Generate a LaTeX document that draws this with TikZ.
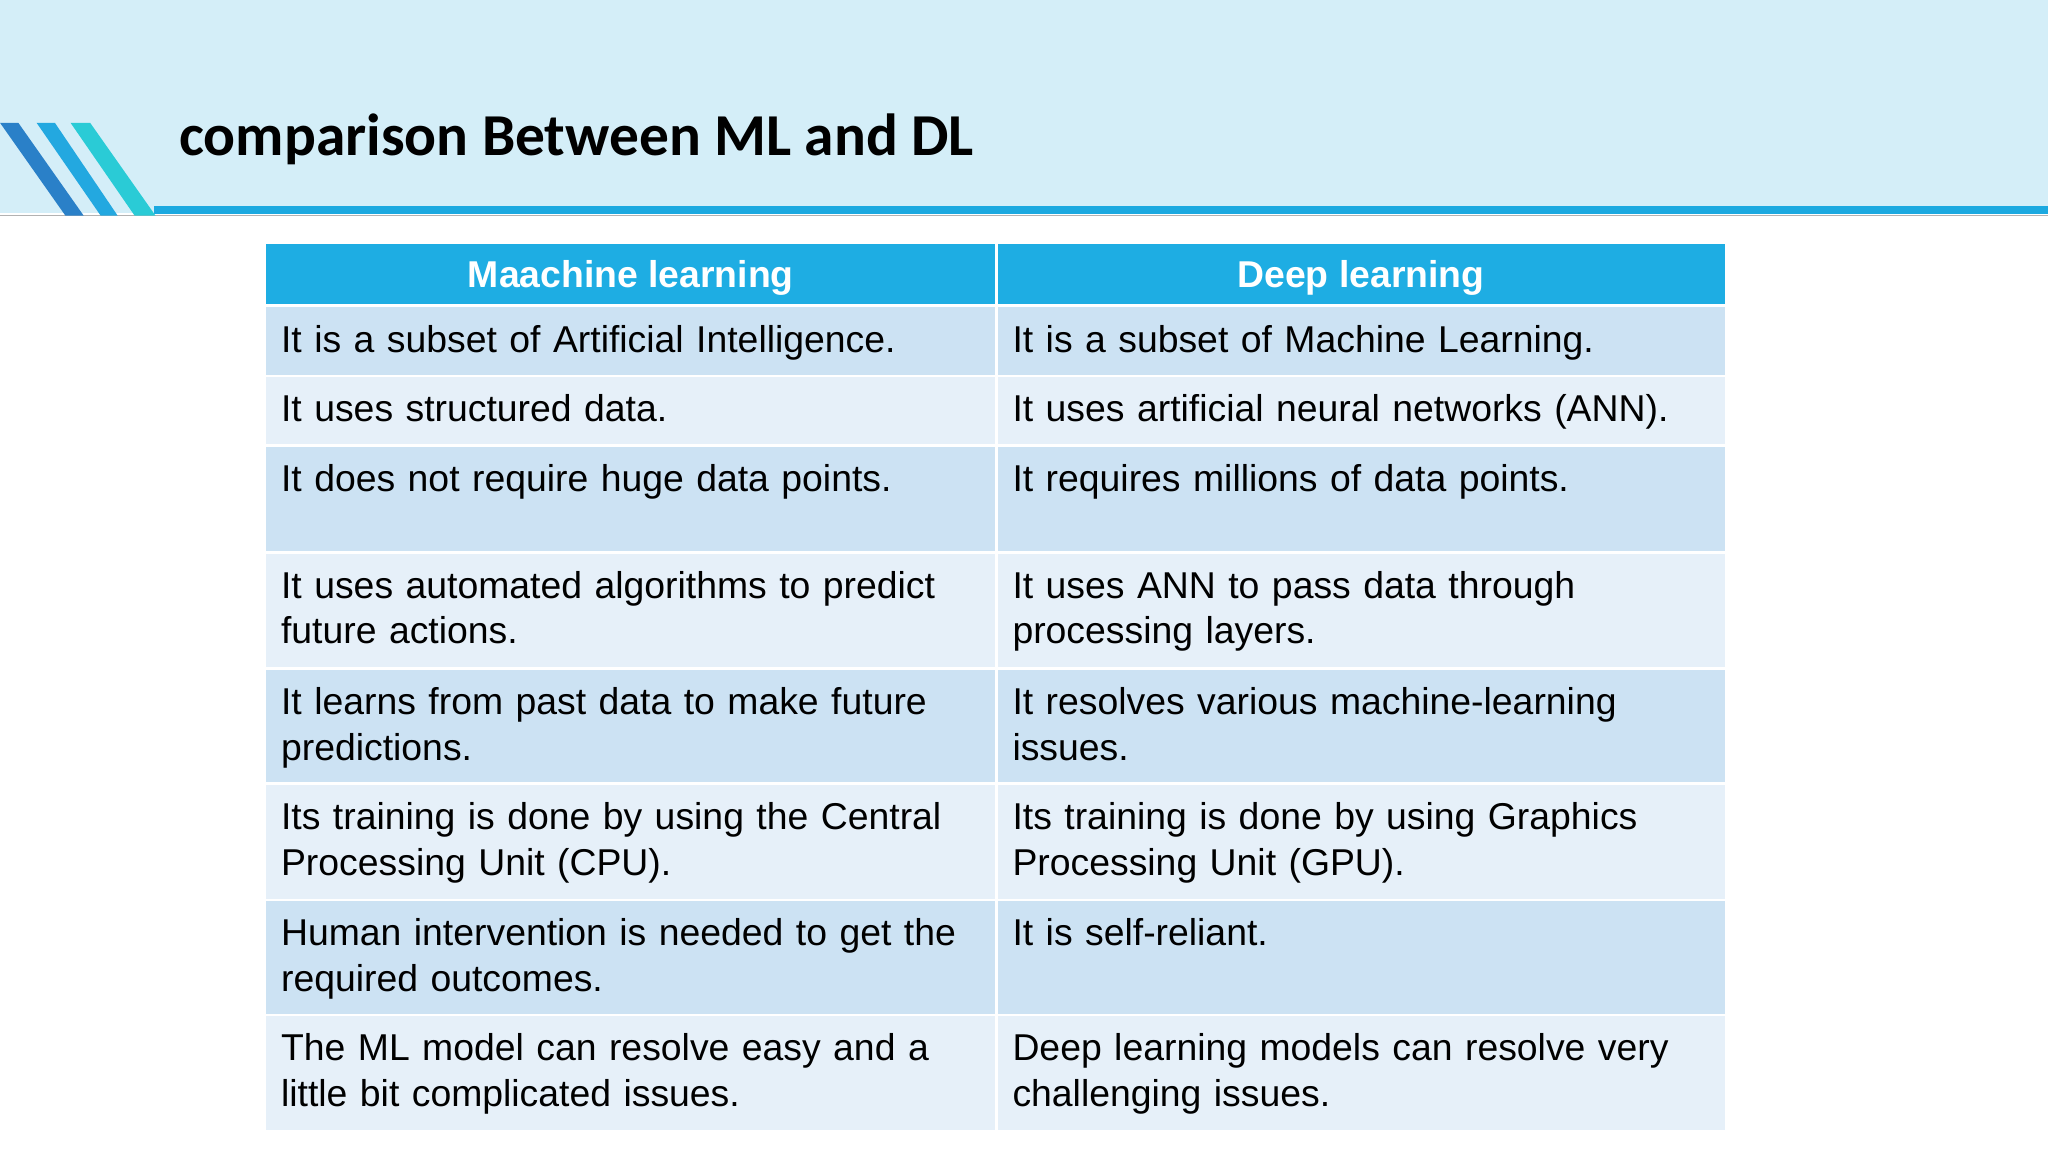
\documentclass[tikz,border=0pt]{standalone}
\usepackage{fontspec}
\setmainfont{Liberation Sans}
\newfontfamily\titlefont{Carlito}
\definecolor{band}{HTML}{D4EEF8}
\definecolor{line}{HTML}{1CA9E0}
\definecolor{sA}{HTML}{2A80C8}
\definecolor{sB}{HTML}{23A8E0}
\definecolor{sC}{HTML}{2ACBD6}
\definecolor{hdr}{HTML}{1EADE3}
\definecolor{dark}{HTML}{CCE2F3}
\definecolor{light}{HTML}{E6F0F9}
\begin{document}
\begin{tikzpicture}[x=1pt,y=-1pt,
  cell/.style={anchor=north west,align=left,font=\fontsize{28.6}{35}\selectfont,text=black,inner sep=0pt,text width=540pt},
  head/.style={font=\fontsize{28.6}{32}\selectfont\bfseries,text=white,inner sep=0pt}]
\useasboundingbox (0,0) rectangle (1568,882);
\fill[white] (0,0) rectangle (1568,882);
\fill[band] (0,0) rectangle (1568,163);
\draw[gray!60,line width=1.5pt] (0,165) -- (1568,165);
\fill[line] (118,158) rectangle (1568,164);
\fill[sA] (0,94) -- (14,94) -- (64,165) -- (50,165) -- cycle;
\fill[sB] (28,94) -- (42,94) -- (90,165) -- (77,165) -- cycle;
\fill[sC] (54,94) -- (69,94) -- (119,165) -- (103,165) -- cycle;
\node[anchor=west,font=\titlefont\fontsize{45.5}{52}\selectfont\bfseries,inner sep=0pt] (title) at (137,107) {comparison Between ML and DL};
% table
\fill[hdr] (204,187) rectangle (1321,234);
\foreach \a/\b/\c in {234/288/dark,288/341/light,341/423/dark,423/512/light,512/600/dark,600/689/light,689/777/dark,777/865/light}
  \fill[\c] (204,\a) rectangle (1321,\b);
\foreach \y in {234,288,341,423,512,600,689,777}
  \draw[white,line width=2pt] (204,\y) -- (1321,\y);
\draw[white,line width=2pt] (763,187) -- (763,865);
\node[head] (h1) at (483,213) {Maachine learning};
\node[head] (h2) at (1042,213) {Deep learning};
\node[cell] (a1) at (215,249) {It is a subset of Artificial Intelligence.};
\node[cell] (b1) at (775,249) {It is a subset of Machine Learning.};
\node[cell] (a2) at (215,302) {It uses structured data.};
\node[cell] (b2) at (775,302) {It uses artificial neural networks (ANN).};
\node[cell] (a3) at (215,355) {It does not require huge data points.};
\node[cell] (b3) at (775,355) {It requires millions of data points.};
\node[cell] (a4) at (215,437) {It uses automated algorithms to predict\\future actions.};
\node[cell] (b4) at (775,437) {It uses ANN to pass data through\\processing layers.};
\node[cell] (a5) at (215,526) {It learns from past data to make future\\predictions.};
\node[cell] (b5) at (775,526) {It resolves various machine-learning\\issues.};
\node[cell] (a6) at (215,614) {Its training is done by using the Central\\Processing Unit (CPU).};
\node[cell] (b6) at (775,614) {Its training is done by using Graphics\\Processing Unit (GPU).};
\node[cell] (a7) at (215,703) {Human intervention is needed to get the\\required outcomes.};
\node[cell] (b7) at (775,703) {It is self-reliant.};
\node[cell] (a8) at (215,791) {The ML model can resolve easy and a\\little bit complicated issues.};
\node[cell] (b8) at (775,791) {Deep learning models can resolve very\\challenging issues.};
\end{tikzpicture}
\end{document}
